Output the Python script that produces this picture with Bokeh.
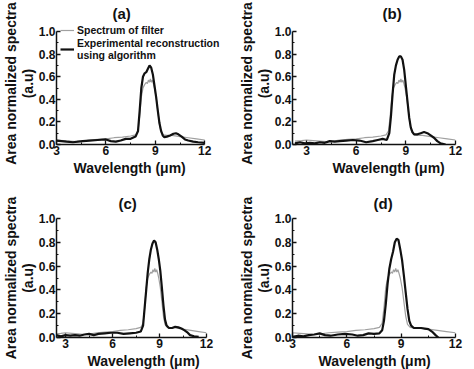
from bokeh.plotting import figure
from bokeh.layouts import gridplot
from bokeh.models import Legend, LegendItem, Range1d, FixedTicker, NumeralTickFormatter, Title
from bokeh.embed import file_html
from bokeh.resources import INLINE

# ---- data ----
filter_x = [2.3, 2.7, 3.0, 3.4, 3.8, 4.2, 4.6, 5.0, 5.5, 6.0, 6.5, 7.0, 7.5, 7.8, 7.95, 8.05, 8.15, 8.25,
            8.35, 8.45, 8.52, 8.58, 8.64, 8.70, 8.76, 8.82, 8.88, 8.95, 9.05, 9.15, 9.25, 9.35, 9.5,
            9.7, 10.0, 10.5, 11.0, 11.5, 12.0]
filter_y = [0.03, 0.035, 0.04, 0.035, 0.03, 0.025, 0.03, 0.04, 0.045, 0.05, 0.06, 0.065, 0.075, 0.085,
            0.12, 0.25, 0.42, 0.50, 0.53, 0.55, 0.54, 0.57, 0.55, 0.58, 0.55, 0.57, 0.54, 0.50, 0.42,
            0.30, 0.18, 0.11, 0.085, 0.08, 0.08, 0.07, 0.06, 0.05, 0.04]

rec_a_x = [3.0, 3.3, 3.6, 4.0, 4.3, 4.6, 5.0, 5.5, 6.0, 6.3, 6.6, 6.9, 7.2, 7.5, 7.8, 7.95, 8.05, 8.15,
           8.25, 8.35, 8.45, 8.55, 8.65, 8.75, 8.85, 8.95, 9.05, 9.15, 9.25, 9.35, 9.45, 9.55, 9.7,
           9.9, 10.1, 10.25, 10.4, 10.6, 10.8, 11.0, 11.3, 11.6, 12.0]
rec_a_y = [0.035, 0.03, 0.025, 0.02, 0.025, 0.03, 0.035, 0.04, 0.045, 0.03, 0.025, 0.035, 0.05, 0.05,
           0.07, 0.12, 0.30, 0.50, 0.60, 0.63, 0.64, 0.67, 0.70, 0.68, 0.62, 0.52, 0.42, 0.30, 0.19,
           0.12, 0.08, 0.065, 0.07, 0.08, 0.095, 0.10, 0.09, 0.07, 0.045, 0.035, 0.025, 0.02, 0.015]

rec_b_x = [2.3, 2.6, 2.9, 3.2, 3.5, 3.8, 4.1, 4.4, 4.7, 5.0, 5.4, 5.8, 6.2, 6.6, 7.0, 7.3, 7.6, 7.85,
           8.0, 8.1, 8.2, 8.3, 8.4, 8.5, 8.6, 8.7, 8.8, 8.9, 9.0, 9.1, 9.2, 9.3, 9.4, 9.5, 9.7, 9.9,
           10.1, 10.3, 10.5, 10.7, 10.9, 11.1, 11.4]
rec_b_y = [0.01, 0.02, 0.01, 0.015, 0.01, 0.02, 0.015, 0.03, 0.025, 0.03, 0.035, 0.04, 0.035, 0.02,
           0.03, 0.04, 0.05, 0.04, 0.10, 0.25, 0.45, 0.62, 0.70, 0.75, 0.78, 0.78, 0.75, 0.66, 0.52,
           0.38, 0.24, 0.15, 0.11, 0.09, 0.09, 0.10, 0.11, 0.10, 0.08, 0.06, 0.03, 0.01, 0.0]

rec_c_x = [2.4, 2.7, 3.0, 3.3, 3.6, 3.9, 4.2, 4.5, 4.8, 5.1, 5.5, 5.9, 6.3, 6.7, 7.1, 7.5, 7.8, 7.95,
           8.05, 8.15, 8.25, 8.35, 8.45, 8.55, 8.65, 8.75, 8.85, 8.95, 9.05, 9.15, 9.25, 9.35, 9.45,
           9.6, 9.8, 10.0, 10.2, 10.4, 10.6, 10.8, 10.95, 11.2, 11.5]
rec_c_y = [0.02, 0.01, 0.02, 0.015, 0.02, 0.015, 0.025, 0.03, 0.02, 0.03, 0.035, 0.04, 0.04, 0.03,
           0.035, 0.04, 0.05, 0.10, 0.25, 0.40, 0.55, 0.66, 0.74, 0.79, 0.815, 0.80, 0.74, 0.66, 0.56,
           0.42, 0.27, 0.15, 0.10, 0.08, 0.08, 0.09, 0.085, 0.075, 0.06, 0.04, 0.02, 0.01, 0.005]

rec_d_x = [3.0, 3.3, 3.6, 3.9, 4.2, 4.5, 4.8, 5.1, 5.5, 5.9, 6.3, 6.6, 6.9, 7.2, 7.5, 7.8, 7.95, 8.05,
           8.15, 8.25, 8.35, 8.45, 8.55, 8.65, 8.75, 8.85, 8.95, 9.05, 9.15, 9.25, 9.35, 9.45, 9.55,
           9.7, 9.9, 10.1, 10.3, 10.5, 10.7, 10.9, 11.05]
rec_d_y = [0.005, 0.015, 0.01, 0.02, 0.025, 0.035, 0.02, 0.015, 0.025, 0.03, 0.025, 0.015, 0.02, 0.035,
           0.03, 0.035, 0.06, 0.14, 0.28, 0.45, 0.58, 0.66, 0.72, 0.80, 0.83, 0.82, 0.74, 0.65, 0.52,
           0.38, 0.24, 0.14, 0.10, 0.08, 0.08, 0.08, 0.075, 0.07, 0.05, 0.02, 0.0]

x_ticks = [3, 6, 9, 12]
y_ticks = [0.0, 0.2, 0.4, 0.6, 0.8, 1.0]
panel_titles = ["(a)", "(b)", "(c)", "(d)"]
x_starts = [3.0, 2.15, 2.42, 3.0]
x_label = "Wavelength (\u03bcm)"
y_label = "Area normalized spectra\n(a.u)"
legend_labels = ["Spectrum of filter", "Experimental reconstruction\nusing algorithm"]

FONT = "Liberation Sans"

# per-panel layout: frame_w, frame_h, borders (l, r, t, b), x_end, y_end,
#                   title standoff, title offset, x-label offset
layouts = [
    (168, 122, 55, 10, 22, 41, 13.2, 1.08, 1, 56, 17),
    (163, 122, 58, 12, 22, 41, 12.0, 1.08, 1, 90, 40),
    (150, 119, 55, 28, 31, 33, 12.0, 1.0, 14, 62, 31),
    (163, 119, 58, 12, 31, 33, 12.0, 1.0, 14, 81, 26),
]
recs = [(rec_a_x, rec_a_y), (rec_b_x, rec_b_y), (rec_c_x, rec_c_y), (rec_d_x, rec_d_y)]

figs = []
for i in range(4):
    fw, fh, bl, br, bt, bb, xe, ye, ts, to, xo = layouts[i]
    p = figure(frame_width=fw, frame_height=fh, output_backend="svg", toolbar_location=None,
               x_range=Range1d(x_starts[i], xe), y_range=Range1d(0.0, ye),
               min_border_left=bl, min_border_right=br, min_border_top=bt, min_border_bottom=bb,
               title=panel_titles[i])
    p.outline_line_color = None
    p.grid.visible = False
    p.background_fill_color = "white"
    p.border_fill_color = "white"
    p.title.align = "left"
    p.title.offset = to
    p.title.text_font = FONT
    p.title.text_font_size = "15px"
    p.title.text_font_style = "bold"
    p.title.text_color = "#111111"
    p.title.standoff = ts

    p.xaxis.ticker = FixedTicker(ticks=x_ticks, minor_ticks=[4.5, 7.5, 10.5])
    p.yaxis.ticker = FixedTicker(ticks=y_ticks, minor_ticks=[0.1, 0.3, 0.5, 0.7, 0.9])
    p.xaxis[0].bounds = (x_starts[i], 12.0)
    p.yaxis[0].bounds = (0.0, 1.0)
    for ax in (p.xaxis[0], p.yaxis[0]):
        ax.axis_line_width = 1.5
        ax.axis_line_color = "#111111"
        ax.major_tick_in = 4
        ax.major_tick_out = 0
        ax.minor_tick_in = 2
        ax.minor_tick_out = 0
        ax.major_tick_line_width = 1.3
        ax.major_tick_line_color = "#111111"
        ax.minor_tick_line_color = "#111111"
        ax.major_label_text_font = FONT
        ax.major_label_text_font_style = "bold"
        ax.major_label_text_font_size = "12px"
        ax.major_label_text_color = "#111111"
        ax.axis_label_text_font = FONT
        ax.axis_label_text_font_style = "bold"
        ax.axis_label_text_color = "#111111"
        ax.major_label_standoff = 1
        ax.axis_label_standoff = 0
    p.yaxis[0].formatter = NumeralTickFormatter(format="0.0")
    p.yaxis[0].axis_label = y_label
    p.yaxis[0].axis_label_text_font_size = "14px"
    p.yaxis[0].axis_label_text_line_height = 1.05

    xt = Title(text=x_label, align="left", offset=xo, text_font=FONT, text_font_style="bold",
               text_font_size="14px", text_color="#111111", standoff=0)
    p.add_layout(xt, "below")

    rx, ry = recs[i]
    g = p.line(filter_x, filter_y, line_color="#a0a0a0", line_width=1.2)
    b = p.line(rx, ry, line_color="#111111", line_width=2.2)

    if i == 0:
        leg = Legend(items=[LegendItem(label=legend_labels[0], renderers=[g]),
                            LegendItem(label=legend_labels[1], renderers=[b])],
                     location=(4, 83))
        leg.background_fill_alpha = 0
        leg.border_line_color = None
        leg.label_text_font = FONT
        leg.label_text_font_style = "bold"
        leg.label_text_font_size = "10.5px"
        leg.label_text_color = "#111111"
        leg.label_height = 12
        leg.glyph_height = 12
        leg.glyph_width = 14
        leg.label_standoff = 3
        leg.spacing = 1
        leg.padding = 0
        leg.margin = 0
        p.add_layout(leg)
    figs.append(p)

grid = gridplot([[figs[0], figs[1]], [figs[2], figs[3]]], toolbar_location=None)

open("out.html", "w").write(file_html(grid, INLINE))
